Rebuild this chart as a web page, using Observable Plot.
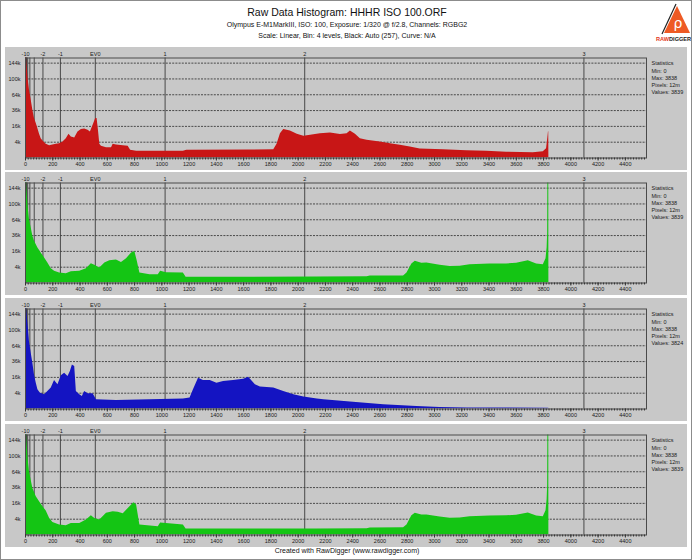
<!DOCTYPE html>
<html lang="en">
<head>
    <meta charset="UTF-8">
    <script src="https://cdn.jsdelivr.net/npm/d3@7"></script>
    <script src="https://cdn.jsdelivr.net/npm/@observablehq/plot@0.6"></script>
    <title>Raw Data Histogram</title>
    <style>
        body { margin: 0; background: #fff; font-family: "Liberation Sans", Arial, sans-serif; }
        #page { position: relative; width: 692px; height: 560px; box-sizing: border-box; border: 1px solid #8c8c8c; background: #fff; overflow: hidden; }
        .hdr { position: absolute; left: 0; width: 692px; text-align: center; color: #111; white-space: nowrap; }
        .panel { position: absolute; left: 4px; }
        .panel svg { display: block; }
        #logo { position: absolute; left: 652px; top: 2px; }
    </style>
</head>
<body>
<div id="page">
    <div class="hdr" style="top:5px;font-size:10.5px">Raw Data Histogram: HHHR ISO 100.ORF</div>
    <div class="hdr" style="top:20px;font-size:7px">Olympus E-M1MarkIII, ISO: 100, Exposure: 1/320 @ f/2.8, Channels: RGBG2</div>
    <div class="hdr" style="top:31px;font-size:7px">Scale: Linear, Bin: 4 levels, Black: Auto (257), Curve: N/A</div>
    <svg id="logo" width="38" height="40">
        <polygon points="24,3 11,30 37,30" fill="#ee5a24"/>
        <line x1="23" y1="1" x2="9" y2="31" stroke="#222" stroke-width="1.2"/>
        <text x="25" y="25" font-size="14" fill="#fff" text-anchor="middle" font-family="DejaVu Sans">ρ</text>
        <text x="3" y="38" font-size="5.6" font-weight="bold" font-family="Liberation Sans Narrow, Liberation Sans"><tspan fill="#e2361a">RAW</tspan><tspan fill="#222">DIGGER</tspan></text>
    </svg>
    <div class="panel" id="p0"></div>
    <div class="panel" id="p1"></div>
    <div class="panel" id="p2"></div>
    <div class="panel" id="p3"></div>
    <div class="hdr" style="top:546px;font-size:7px">Created with RawDigger (www.rawdigger.com)</div>
</div>
<script>
    // histogram values (raw level, pixel count)
    const redX = [0, 5, 10, 20, 29, 42, 54, 66, 79, 91, 103, 115, 128, 152, 177, 201, 226, 250, 275, 299, 319, 336, 361, 385, 410, 434, 459, 476, 496, 515, 525, 535, 545, 557, 594, 631, 643, 667, 717, 753, 771, 815, 1158, 1183, 1649, 1821, 1845, 1870, 1894, 1943, 1993, 2042, 2091, 2163, 2237, 2310, 2359, 2383, 2420, 2456, 2505, 2602, 2676, 2749, 2822, 2895, 3066, 3237, 3383, 3529, 3724, 3798, 3822, 3832, 3836, 3838, 3839];
    const redCount = [250000, 180000, 144000, 97000, 74000, 53500, 36600, 24900, 19000, 13800, 9000, 6000, 4650, 3000, 2450, 2700, 3000, 3300, 4100, 6000, 9000, 7100, 6400, 10900, 12900, 13500, 12300, 10900, 17200, 24900, 24900, 12300, 3000, 2200, 1700, 1700, 3000, 2700, 2450, 2200, 950, 720, 720, 950, 1030, 1100, 3000, 9500, 12900, 11700, 9000, 7550, 8300, 9500, 10100, 8800, 9500, 11700, 9000, 6000, 5000, 4100, 3300, 2600, 1950, 1300, 1100, 870, 720, 520, 460, 650, 1400, 7100, 11000, 11000, 0];

    const greenX = [0, 5, 10, 20, 29, 42, 54, 66, 91, 115, 140, 164, 189, 213, 250, 299, 336, 398, 447, 483, 508, 545, 582, 618, 667, 704, 741, 778, 802, 820, 839, 913, 974, 991, 1035, 1158, 1178, 1649, 2140, 2505, 2529, 2773, 2798, 2834, 2859, 2907, 2944, 3041, 3115, 3188, 3261, 3407, 3529, 3602, 3688, 3749, 3798, 3818, 3826, 3830, 3832, 3838, 3839];
    const greenCount = [250000, 200000, 144000, 90000, 64000, 48500, 34900, 27800, 19600, 14400, 10000, 6400, 3300, 2200, 1600, 1400, 2050, 2200, 3300, 6000, 5000, 3600, 6400, 8000, 8500, 6800, 9500, 14400, 16000, 7500, 1600, 1100, 1100, 2200, 1700, 1600, 510, 510, 580, 640, 780, 780, 1600, 5800, 7500, 6200, 6400, 5000, 4300, 4450, 5400, 5800, 5800, 6200, 8000, 5800, 5400, 9500, 19600, 40000, 250000, 250000, 0];

    const blueX = [0, 5, 10, 20, 29, 42, 54, 66, 79, 91, 108, 140, 164, 189, 213, 238, 263, 287, 312, 329, 344, 361, 373, 398, 417, 434, 459, 496, 520, 667, 913, 1158, 1207, 1232, 1269, 1305, 1355, 1404, 1453, 1526, 1600, 1637, 1686, 1723, 1821, 1894, 1968, 2042, 2140, 2188, 2383, 2627, 2871, 3041, 3237, 3834, 3838, 3839];
    const blueCount = [250000, 200000, 150000, 108000, 72400, 49600, 33500, 18600, 10700, 5900, 4050, 3250, 4900, 7000, 13000, 9400, 17600, 20500, 16900, 22400, 31100, 28800, 4900, 3250, 2500, 4900, 3700, 3700, 1380, 1190, 1380, 1580, 1900, 5900, 15200, 13000, 13000, 10700, 12100, 13000, 14200, 16200, 9400, 7700, 7000, 4900, 3250, 2280, 1580, 1380, 780, 300, 110, 40, 16, 10, 10, 0];

    const green2X = [0, 5, 10, 20, 29, 54, 79, 103, 128, 152, 177, 201, 250, 299, 336, 398, 447, 483, 508, 545, 594, 643, 680, 717, 766, 795, 815, 839, 974, 991, 1158, 1178, 2140, 2505, 2529, 2773, 2798, 2834, 2859, 2907, 2944, 3041, 3115, 3188, 3261, 3407, 3529, 3602, 3688, 3749, 3798, 3818, 3826, 3830, 3832, 3838, 3839];
    const green2Count = [250000, 200000, 144000, 89000, 64000, 34600, 23300, 17700, 12800, 9200, 4400, 2550, 1600, 1400, 2150, 2150, 3600, 5900, 4400, 3600, 7500, 8600, 8200, 7200, 12800, 16600, 14300, 1600, 1100, 2300, 1600, 570, 570, 650, 800, 850, 1600, 6000, 7500, 6400, 6400, 5200, 4500, 4600, 5400, 5800, 5900, 6200, 7800, 5800, 5400, 9500, 20000, 40000, 250000, 250000, 0];

    const channelColors = ["#c81616", "#14c514", "#1414c2", "#14c514"];
    const statValues = ["3839", "3839", "3824", "3839"];
    const statMax = ["3838", "3838", "3838", "3838"];

    const yTicks = [4000, 16000, 36000, 64000, 100000, 144000];
    const yTickLabels = ["4k", "16k", "36k", "64k", "100k", "144k"];
    const evLines = [1, 2, 4, 8, 16, 32, 64, 128, 256, 512, 1024, 2048, 4096];
    const evPos = [0.5, 128, 256, 512, 1024, 2048, 4096];
    const evLabels = ["-10", "-2", "-1", "EV0", "1", "2", "3"];
    const xLabelTicks = d3.range(0, 4401, 200);
    const xMinorTicks = d3.range(0, 4556, 20);

    const series = [[redX, redCount], [greenX, greenCount], [blueX, blueCount], [green2X, green2Count]];

    series.forEach(([xs, ys], k) => {
        const data = xs.map((x, i) => ({x: x, count: ys[i]}));
        const stats = "Statistics\nMin: 0\nMax: " + statMax[k] + "\nPixels: 12m\nValues: " + statValues[k];

        const plot = Plot.plot({
            width: 682,
            height: 123,
            marginLeft: 20,
            marginRight: 41,
            marginTop: 10.5,
            marginBottom: 12.5,
            style: {background: "#c8c8c8", fontFamily: "Liberation Sans, Arial, sans-serif", fontSize: "5.5px", color: "#1a1a1a"},
            x: {domain: [0, 4555], label: null},
            y: {type: "sqrt", domain: [0, 160000], label: null},
            marks: [
                Plot.ruleY(yTicks, {stroke: "#2a2a2a", strokeWidth: 0.8, strokeDasharray: "2,1.2"}),
                Plot.ruleX(evLines, {stroke: "#3a3a3a", strokeWidth: 0.9}),
                Plot.areaY(data, {x: "x", y: "count", fill: channelColors[k], curve: "linear", clip: true}),
                Plot.frame({stroke: "#4a4a4a", strokeWidth: 1}),
                Plot.axisY({ticks: yTicks, tickFormat: d => yTickLabels[yTicks.indexOf(d)], tickSize: 0, tickPadding: 5, fontSize: 5.5, label: null}),
                Plot.axisX({ticks: xMinorTicks, tickSize: 2, tickFormat: () => "", label: null, stroke: "#333"}),
                Plot.axisX({ticks: xLabelTicks, tickSize: 3, tickPadding: 1.5, tickFormat: d => String(d), fontSize: 5.5, label: null, stroke: "#333"}),
                Plot.text(evPos, {x: d => d, text: (d, i) => evLabels[i], frameAnchor: "top", dy: -5.5, fontSize: 5.5}),
                Plot.text([stats], {frameAnchor: "top-right", dx: 5, dy: 2, textAnchor: "start", lineAnchor: "top", lineHeight: 1.33, fontSize: 5.5})
            ]
        });
        const div = document.querySelector("#p" + k);
        div.style.top = (45.5 + k * 125.8) + "px";
        div.append(plot);
    });
</script>
</body>
</html>
